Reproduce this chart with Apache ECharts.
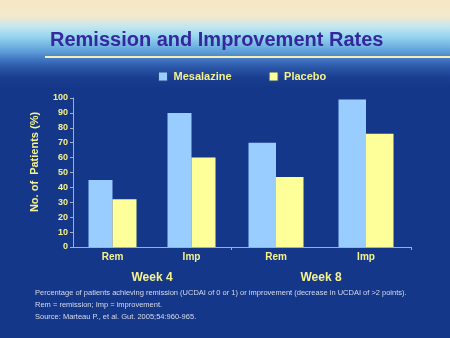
<!DOCTYPE html>
<html>
<head>
<meta charset="utf-8">
<script src="https://cdn.jsdelivr.net/npm/echarts@6/dist/echarts.min.js"></script>
<style>
  html, body { margin: 0; padding: 0; }
  body {
    width: 450px; height: 338px; overflow: hidden;
    background: linear-gradient(to bottom,
      #f7e8c6 0px, #f3e9cc 16px, #c2e6ef 27px, #98d6f0 36px,
      #72b4e2 46px, #5592d2 54px, #3f72c0 60px, #2a55a6 68px,
      #1a3d90 78px, #15378a 88px, #15378a 338px);
  }
  #chart { width: 450px; height: 338px; }
</style>
</head>
<body>
<div id="chart"></div>
<script>
// Outcome categories and study weeks
const categories = ['Rem', 'Imp'];
const weeks = ['Week 4', 'Week 8'];
const seriesNames = ['Mesalazine', 'Placebo'];

// Percentage of patients per outcome
const mesalazineWeek4 = [45, 90];
const placeboWeek4 = [32, 60];
const mesalazineWeek8 = [70, 99];
const placeboWeek8 = [47, 76];

const yTicks = { min: 0, max: 100, step: 10 };

const footnotes = [
  'Percentage of patients achieving remission (UCDAI of 0 or 1) or improvement (decrease in UCDAI of >2 points).',
  'Rem = remission; Imp = improvement.',
  'Source: Marteau P., et al. Gut. 2005;54:960-965.'
];

const yellow = '#f6f28e';
const axisGrey = '#a9aebd';
const colors = ['#99ccff', '#ffff99'];

const chart = echarts.init(document.getElementById('chart'), null, { renderer: 'canvas' });

function xAxisFor(gridIndex, weekName, ticks) {
  return {
    type: 'category',
    gridIndex: gridIndex,
    data: categories,
    name: weekName,
    nameLocation: 'middle',
    nameGap: 25,
    nameTextStyle: { color: yellow, fontFamily: 'Liberation Sans', fontWeight: 'bold', fontSize: 12 },
    axisLine: { lineStyle: { color: axisGrey, width: 1 } },
    axisTick: ticks
      ? { show: true, length: 3, lineStyle: { color: axisGrey }, interval: (i) => i === 0 }
      : { show: false },
    axisLabel: { color: yellow, fontFamily: 'Liberation Sans', fontWeight: 'bold', fontSize: 10, margin: 5 }
  };
}

function yAxisFor(gridIndex, visible) {
  return {
    type: 'value',
    gridIndex: gridIndex,
    min: yTicks.min,
    max: yTicks.max,
    interval: yTicks.step,
    show: visible,
    splitLine: { show: false },
    axisLine: { show: true, lineStyle: { color: axisGrey, width: 1 } },
    axisTick: { show: true, length: 3, lineStyle: { color: axisGrey } },
    axisLabel: { color: yellow, fontFamily: 'Liberation Sans', fontWeight: 'bold', fontSize: 9, margin: 5 }
  };
}

function barSeries(name, data, axisIndex, width, color) {
  return {
    type: 'bar',
    name: name,
    data: data,
    xAxisIndex: axisIndex,
    yAxisIndex: axisIndex,
    barWidth: width,
    barGap: '0%',
    itemStyle: { color: color },
    emphasis: { disabled: true }
  };
}

const option = {
  backgroundColor: 'transparent',
  animation: false,
  color: colors,
  legend: {
    data: seriesNames,
    top: 71,
    left: 158,
    padding: 0,
    itemWidth: 9,
    itemHeight: 9,
    itemGap: 37,
    icon: 'rect',
    itemStyle: { borderColor: '#2a4a8a', borderWidth: 1 },
    textStyle: { color: yellow, fontFamily: 'Liberation Sans', fontWeight: 'bold', fontSize: 11, padding: [0, 0, 0, 1] }
  },
  grid: [
    { left: 73, top: 98, width: 158, height: 149 },
    { left: 231, top: 98, width: 180, height: 149 }
  ],
  xAxis: [xAxisFor(0, weeks[0], false), xAxisFor(1, weeks[1], true)],
  yAxis: [yAxisFor(0, true), yAxisFor(1, false)],
  series: [
    barSeries(seriesNames[0], mesalazineWeek4, 0, 24, colors[0]),
    barSeries(seriesNames[1], placeboWeek4, 0, 24, colors[1]),
    barSeries(seriesNames[0], mesalazineWeek8, 1, 27.5, colors[0]),
    barSeries(seriesNames[1], placeboWeek8, 1, 27.5, colors[1])
  ],
  graphic: [
    {
      type: 'text', left: 50, top: 30,
      style: { text: 'Remission and Improvement Rates', fill: '#34299c',
        font: 'bold 20px "Liberation Sans", Arial, sans-serif' }
    },
    {
      type: 'rect', shape: { x: 45, y: 56, width: 405, height: 2 },
      style: { fill: '#f6efb4' }
    },
    {
      type: 'text', x: 35, y: 162, rotation: Math.PI / 2,
      style: { text: 'No. of  Patients (%)', fill: yellow, align: 'center', verticalAlign: 'middle',
        font: 'bold 11px "Liberation Sans", Arial, sans-serif' }
    },
    {
      type: 'text', x: 35, y: 287,
      style: { text: footnotes.join('\n'), fill: '#d6dbe8', lineHeight: 12,
        font: '7.5px "Liberation Sans", Arial, sans-serif' }
    }
  ]
};

chart.setOption(option);
</script>
</body>
</html>
